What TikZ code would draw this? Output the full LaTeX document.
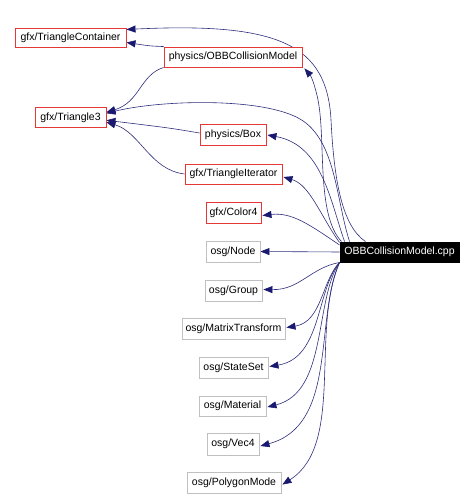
\documentclass[tikz,border=0pt]{standalone}
\usepackage{fontspec}
\setmainfont{Liberation Sans}
\usetikzlibrary{arrows.meta,calc}
\pgfdeclarelayer{edges}
\pgfsetlayers{edges,main}
\definecolor{edgecol}{RGB}{45,45,125}
\definecolor{tipcol}{RGB}{25,25,112}
\definecolor{redframe}{RGB}{230,55,55}
\definecolor{greyframe}{RGB}{192,192,192}
\tikzset{
  box/.style={draw, line width=0.9bp, minimum height=20bp, inner sep=0pt,
    font=\fontsize{10.5bp}{12bp}\selectfont, text=black, fill=white},
  redbox/.style={box, draw=redframe},
  greybox/.style={box, draw=greyframe},
  mainbox/.style={box, draw=black, fill=black, text=white},
  dep/.style={draw=edgecol, line width=0.6bp,
    -{Triangle[length=9bp,width=7bp,fill=tipcol,color=tipcol]}}
}
\begin{document}
\begin{tikzpicture}[x=1bp,y=-1bp]
\useasboundingbox (0,0) rectangle (474,497);
% nodes
\node[redbox, minimum width=111bp, minimum height=19bp] (TC) at (70.5,37.5) {gfx/TriangleContainer};
\node[redbox, minimum width=138bp] (OBB) at (233,57) {physics/OBBCollisionModel};
\node[redbox, minimum width=71bp, minimum height=20.5bp] (T3) at (70.5,117.3) {gfx/Triangle3};
\node[redbox, minimum width=66bp, minimum height=21bp] (Box) at (233,135) {physics/Box};
\node[redbox, minimum width=97bp] (TI) at (233.5,174) {gfx/TriangleIterator};
\node[redbox, minimum width=55bp, minimum height=21bp] (C4) at (233.5,212.5) {gfx/Color4};
\node[mainbox, minimum width=119bp] (cpp) at (399.5,252) {OBBCollisionModel.cpp};
\node[greybox, minimum width=54bp, minimum height=21bp] (Node) at (233,251.5) {osg/Node};
\node[greybox, minimum width=57bp, minimum height=21bp] (Group) at (233.5,290.5) {osg/Group};
\node[greybox, minimum width=103bp, minimum height=21bp] (MT) at (233.5,328.5) {osg/MatrixTransform};
\node[greybox, minimum width=69bp, minimum height=21bp] (SS) at (233.5,367.5) {osg/StateSet};
\node[greybox, minimum width=67bp] (Mat) at (232.5,406) {osg/Material};
\node[greybox, minimum width=52bp, minimum height=22bp] (V4) at (233,444) {osg/Vec4};
\node[greybox, minimum width=94bp, minimum height=21bp] (PM) at (234,482.5) {osg/PolygonMode};
\begin{pgfonlayer}{edges}
% edges among headers
\draw[dep] (OBB.north west) .. controls (150,46) .. ($(TC.east)+(0,5)$);
\draw[dep] (OBB.south west) .. controls (140,75) and (140,102) .. ($(T3.east)+(0,-5)$);
\draw[dep] ($(Box.west)+(0,-2)$) .. controls (170,128) .. ($(T3.east)+(0,3)$);
\draw[dep] (TI.west) .. controls (150,170) and (140,132) .. ($(T3.east)+(0,5)$);
% edges from cpp
\draw[dep] ($(cpp.north west)+(26,0)$) .. controls (342,226) and (334,180) .. (331,120)
  .. controls (327,45) and (280,22) .. ($(TC.east)+(0,-8)$);
\draw[dep] ($(cpp.north west)+(2,0)$) .. controls (316,215) and (326,140) .. (318,100)
  .. controls (315,85) and (311,76) .. ($(OBB.south east)+(2,1)$);
\draw[dep] ($(cpp.north west)+(10,0)$) .. controls (336,200) and (336,140) .. (300,119)
  .. controls (262,97) and (160,100) .. ($(T3.east)+(0,-4)$);
\draw[dep] ($(cpp.north west)+(5,0)$) .. controls (330,200) and (322,145) .. ($(Box.east)+(1,0)$);
\draw[dep] ($(cpp.north west)+(0,1)$) .. controls (320,215) and (310,185) .. ($(TI.east)+(1,3)$);
\draw[dep] ($(cpp.west)+(0,-7)$) .. controls (310,225) and (292,212) .. ($(C4.east)+(1,3)$);
\draw[dep] (cpp.west) -- (Node.east);
\draw[dep] (cpp.south west) .. controls (310,268) and (300,290) .. ($(Group.east)+(1,-1)$);
\draw[dep] (cpp.south west) .. controls (322,280) and (322,322) .. ($(MT.east)+(1,-1)$);
\draw[dep] (cpp.south west) .. controls (316,290) and (322,358) .. ($(SS.east)+(1,-1)$);
\draw[dep] (cpp.south west) .. controls (314,300) and (328,392) .. ($(Mat.east)+(1,1)$);
\draw[dep] (cpp.south west) .. controls (314,320) and (338,425) .. ($(V4.east)+(1,2)$);
\draw[dep] (cpp.south west) .. controls (310,330) and (345,445) .. ($(PM.east)+(1,2)$);
\end{pgfonlayer}
\end{tikzpicture}
\end{document}
